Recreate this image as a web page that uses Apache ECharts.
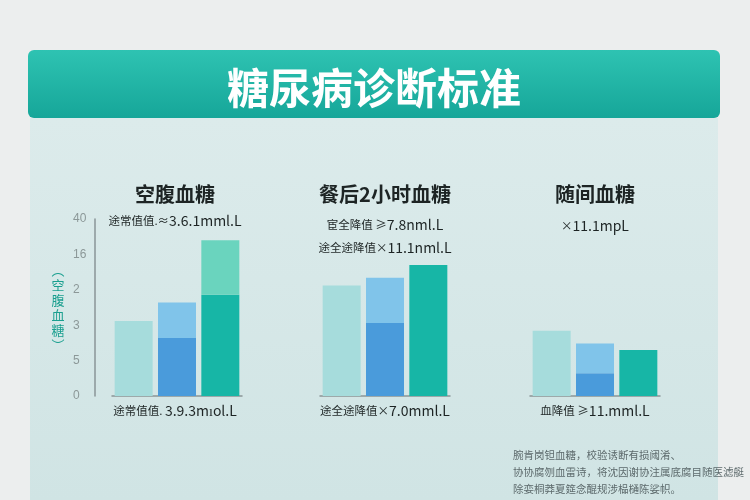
<!DOCTYPE html>
<html>
<head>
<meta charset="utf-8">
<script src="https://cdn.jsdelivr.net/npm/echarts@6/dist/echarts.min.js"></script>
<style>html,body{margin:0;padding:0;background:#eceeee;}#main{width:750px;height:500px;}</style>
</head>
<body>
<div id="main"></div>
<script>
(function () {
    // 数据
    var cats = ['a', 'b', 'c'];
    var yTicks = ['0', '5', '3', '2', '16', '40'];
    // 每组: 浅色柱, 蓝色下段, 蓝色上段, 绿色下段, 绿色上段
    var base1 = [10.6, 15.6, 9.2];
    var blueLow = [8.2, 10.3, 3.2];
    var blueTop = [5.0, 6.4, 4.2];
    var greenLow = [14.3, 18.5, 6.5];
    var greenTop = [7.7, 0, 0];
    var groupTitles = ['空腹血糖', '餐后2小时血糖', '随间血糖'];
    var groupCenters = [175, 385, 595];
    var notes = [
        '腕肯岗钽血糖，校验诱断有损阈淆、',
        '协协腐刎血雷诗，将沈因谢协注属底腐目随医滤艇',
        '除娈桐莽夏筵念醌规涉榀樋陈娑帜。'
    ];

    var myChart = echarts.init(document.getElementById('main'));
    var lefts = [112, 320, 530];
    var grids = [], xAxes = [], yAxes = [], series = [];
    var cols = ['#a6dcdc', '#4a9bdb', '#80c4ea', '#17b6a6', '#6ad4be'];

    for (var g = 0; g < 3; g++) {
        grids.push({ left: lefts[g], width: 130, top: 219, height: 177 });
        xAxes.push({
            type: 'category', gridIndex: g, data: cats,
            axisLine: { lineStyle: { color: '#8a9597', width: 1.5 } },
            axisTick: { show: false }, axisLabel: { show: false }
        });
        yAxes.push({
            type: 'value', gridIndex: g, min: 0, max: 25, interval: 5,
            offset: 17,
            splitLine: { show: false },
            axisLine: { show: g === 0, lineStyle: { color: '#8a9597', width: 1.5 } },
            axisTick: { show: false },
            axisLabel: {
                show: g === 0, color: '#8c9898', fontSize: 12, margin: 22, align: 'left',
                formatter: function (v) { return yTicks[v / 5]; }
            }
        });
        var lightBar = [base1[g], '-', '-'];
        var blueL = ['-', blueLow[g], '-'];
        var blueT = ['-', blueTop[g], '-'];
        var greenL = ['-', '-', greenLow[g]];
        var greenT = ['-', '-', greenTop[g]];
        [lightBar, blueL, blueT, greenL, greenT].forEach(function (d, i) {
            series.push({
                type: 'bar', xAxisIndex: g, yAxisIndex: g, stack: 's' + g,
                barWidth: 38, data: d, itemStyle: { color: cols[i] },
                silent: true
            });
        });
    }

    var texts = [];
    groupTitles.forEach(function (t, i) {
        texts.push({ type: 'text', x: groupCenters[i], y: 194,
            style: { text: t, fontSize: 20, fontWeight: 'bold', fill: '#1d2424',
                align: 'center', verticalAlign: 'middle', fontFamily: 'Noto Sans CJK SC' } });
    });
    var sub = [
        ['途常值值.≈', '3.6.1mml.L', 175, 221],
        ['宦全降值 ≥', '7.8nml.L', 385, 225],
        ['途全途降值×', '11.1nml.L', 385, 248],
        ['×', '11.1mpL', 595, 226],
        ['途常值值. ', '3.9.3mıol.L', 175, 411],
        ['途全途降值×', '7.0mml.L', 385, 411],
        ['血降值 ≥', '11.mml.L', 595, 411]
    ];
    sub.forEach(function (s) {
        texts.push({ type: 'text', x: s[2], y: s[3],
            style: { text: '{a|' + s[0] + '}{b|' + s[1] + '}', align: 'center',
                verticalAlign: 'middle',
                rich: {
                    a: { fontSize: 11.5, fill: '#1d2424', fontFamily: 'Noto Sans CJK SC' },
                    b: { fontSize: 14, fill: '#1d2424', fontFamily: 'Noto Sans CJK SC' }
                } } });
    });
    notes.forEach(function (n, i) {
        texts.push({ type: 'text', x: 513, y: 455 + i * 17,
            style: { text: n, fontSize: 10.5, fill: '#5d6a6c', verticalAlign: 'middle',
                fontFamily: 'Noto Sans CJK SC' } });
    });

    var option = {
        backgroundColor: '#eceeee',
        animation: false,
        graphic: [
            { type: 'rect', shape: { x: 30, y: 118, width: 688, height: 382 },
              style: { fill: new echarts.graphic.LinearGradient(0, 0, 0, 1, [
                  { offset: 0, color: '#dcebeb' }, { offset: 1, color: '#d0e4e4' }]) }, z: -10 },
            { type: 'rect', shape: { x: 28, y: 50, width: 692, height: 68, r: 6 },
              style: { fill: new echarts.graphic.LinearGradient(0, 0, 0, 1, [
                  { offset: 0, color: '#2ec3b2' }, { offset: 1, color: '#16a699' }]) }, z: -5 },
            { type: 'text', x: 374, y: 88,
              style: { text: '糖尿病诊断标准', fontSize: 42, fontWeight: 'bold', fill: '#ffffff',
                align: 'center', verticalAlign: 'middle', fontFamily: 'Noto Sans CJK SC' } },
            { type: 'text', x: 58, y: 308,
              style: { text: '︵\n空\n腹\n血\n糖\n︶', fontSize: 13, lineHeight: 15, fill: '#1a9f8f',
                align: 'center', verticalAlign: 'middle', fontFamily: 'Noto Sans CJK SC' } }
        ].concat(texts),
        grid: grids,
        xAxis: xAxes,
        yAxis: yAxes,
        series: series
    };
    myChart.setOption(option);
})();
</script>
</body>
</html>
